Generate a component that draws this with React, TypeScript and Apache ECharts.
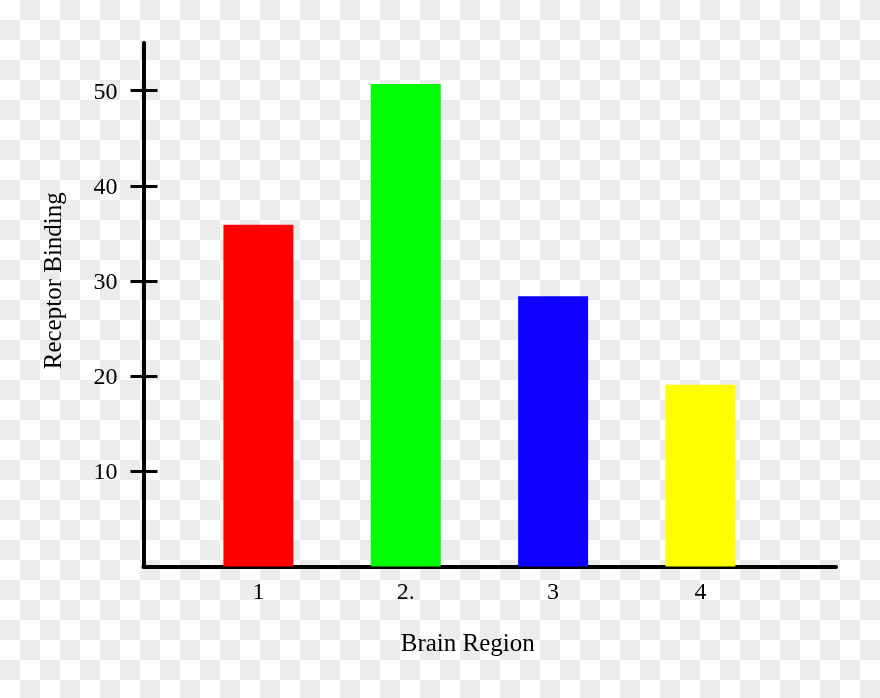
import { useEffect, useRef } from "react";
import * as echarts from "echarts";

// brain region index (x) and receptor binding value (y)
const regions = [1, 2, 3, 4];
const regionLabels = ["1", "2.", "3", "4"];
const binding = [35.9, 50.7, 28.4, 19.1];
const barColors = ["#ff0000", "#00ff00", "#0d00ff", "#ffff00"];
const yTicks = [10, 20, 30, 40, 50];

const FONT = "Liberation Serif";

export default function App() {
  const chartRef = useRef<HTMLDivElement>(null);

  useEffect(() => {
    if (!chartRef.current) return;
    const chart = echarts.init(chartRef.current, null, { renderer: "svg" });

    const option: echarts.EChartsOption = {
      animation: false,
      backgroundColor: "transparent",
      grid: {
        left: 143.5,
        right: 44,
        top: 43,
        bottom: 131.5,
        containLabel: false,
      },
      xAxis: {
        type: "value",
        min: 0.22,
        max: 4.92,
        name: "Brain Region",
        nameLocation: "middle",
        nameGap: 63,
        nameTextStyle: {
          color: "#000",
          fontFamily: FONT,
          fontSize: 25,
          padding: [0, 44, 0, 0],
        },
        axisLine: {
          show: true,
          onZero: false,
          lineStyle: { color: "#000", width: 4 },
        },
        axisTick: { show: false },
        splitLine: { show: false },
        axisLabel: {
          customValues: regions,
          margin: 12,
          color: "#000",
          fontFamily: FONT,
          fontSize: 24,
          formatter: (value: number) => {
            const idx = regions.indexOf(value);
            return idx >= 0 ? regionLabels[idx] : "";
          },
        },
      },
      yAxis: [
        {
          type: "value",
          min: 0,
          max: 55,
          name: "Receptor Binding",
          nameLocation: "middle",
          nameGap: 79,
          nameRotate: 90,
          nameTextStyle: {
            color: "#000",
            fontFamily: FONT,
            fontSize: 25,
            padding: [0, 0, 0, 48],
          },
          axisLine: {
            show: true,
            lineStyle: { color: "#000", width: 4 },
          },
          axisTick: {
            show: true,
            customValues: yTicks,
            length: 13,
            lineStyle: { color: "#000", width: 3 },
          },
          axisLabel: {
            customValues: yTicks,
            margin: 26,
            color: "#000",
            fontFamily: FONT,
            fontSize: 24,
          },
          splitLine: { show: false },
        },
        {
          // second copy of the axis draws the inner half of each tick
          type: "value",
          position: "left",
          min: 0,
          max: 55,
          axisLine: { show: false },
          axisTick: {
            show: true,
            inside: true,
            customValues: yTicks,
            length: 14,
            lineStyle: { color: "#000", width: 3 },
          },
          axisLabel: { show: false },
          splitLine: { show: false },
        },
      ],
      series: [
        {
          type: "bar",
          barWidth: 70,
          data: regions.map((r, i) => ({
            value: [r, binding[i]],
            itemStyle: { color: barColors[i] },
          })),
        },
      ],
    };

    chart.setOption(option);
    return () => {
      chart.dispose();
    };
  }, []);

  return (
    <div
      style={{
        position: "fixed",
        left: 0,
        top: 0,
        width: 880,
        height: 698,
        background:
          "repeating-conic-gradient(#ececec 0% 25%, #ffffff 0% 50%) 0 0 / 40px 40px",
      }}
    >
      <div ref={chartRef} style={{ width: 880, height: 698 }} />
    </div>
  );
}
